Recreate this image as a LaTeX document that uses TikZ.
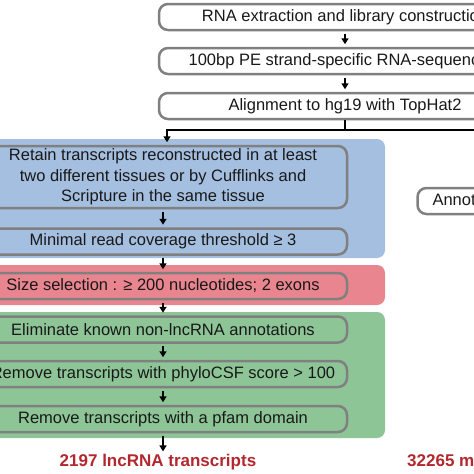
\documentclass[tikz,border=0pt]{standalone}
\usepackage{fontspec}
\setmainfont{Liberation Sans}
\usetikzlibrary{arrows.meta}
\definecolor{boxgray}{RGB}{128,128,128}
\definecolor{regblue}{RGB}{165,191,224}
\definecolor{regred}{RGB}{232,133,143}
\definecolor{reggreen}{RGB}{141,197,151}
\definecolor{countred}{RGB}{178,40,46}
\tikzset{stepbox/.style={draw=boxgray,line width=2.5pt,rounded corners=9pt,minimum height=26pt,inner sep=0pt,align=center,text=black!90,font=\fontsize{16.5}{20.5}\selectfont}}
\tikzset{topbox/.style={stepbox,fill=white,minimum width=372pt}}
\tikzset{leftbox/.style={stepbox,minimum width=368pt}}
\tikzset{flow/.style={line width=2pt,-{Triangle[width=7pt,length=6pt]},shorten <=2.5pt,shorten >=2.5pt}}
\tikzset{region/.style={rounded corners=8pt}}
\tikzset{countlabel/.style={text=countred,inner sep=0pt,font=\fontsize{17}{20}\selectfont\bfseries}}

\begin{document}
\begin{tikzpicture}[x=1pt,y=-1pt]
	\useasboundingbox (0,0) rectangle (474,474);
	\clip (0,0) rectangle (474,474);

	% filter groups
	\fill[region,regblue] (-40,139) rectangle (385,258);
	\fill[region,regred] (-40,265) rectangle (385,305);
	\fill[region,reggreen] (-40,312) rectangle (385,438);

	% sequencing and mapping
	\node[topbox] (extract) at (345,17) {RNA extraction and library construction};
	\node[topbox] (seq) at (345,61) {100bp PE strand-specific RNA-sequencing};
	\node[topbox] (align) at (345,106) {Alignment to hg19 with TopHat2};

	% lncRNA branch
	\node[leftbox,minimum height=62pt] (retain) at (163,177) {Retain transcripts reconstructed in at least\\two different tissues or by Cufflinks and\\Scripture in the same tissue};
	\node[leftbox] (coverage) at (163,241.5) {Minimal read coverage threshold ≥ 3};
	\node[leftbox] (size) at (163,286) {Size selection : ≥ 200 nucleotides; 2 exons};
	\node[leftbox] (known) at (163,329.5) {Eliminate known non-lncRNA annotations};
	\node[leftbox] (phylo) at (163,374) {Remove transcripts with phyloCSF score > 100};
	\node[leftbox] (pfam) at (163,419) {Remove transcripts with a pfam domain};
	\node[countlabel] (lncrna) at (158,462) {2197 lncRNA transcripts};

	% mRNA branch
	\node[stepbox,fill=white,anchor=west,inner xsep=15pt] (annot) at (416.25,201) {Annotated mRNA transcripts};
	\node[countlabel,anchor=west] (mrna) at (407,462) {32265 mRNA transcripts};

	\coordinate (forkL) at (167,130);
	\coordinate (forkR) at (540,130);

	\draw[flow] (extract) -- (seq);
	\draw[flow] (seq) -- (align);
	\draw[line width=2pt] (align.south) -- (align.south |- forkL);
	\draw[flow,shorten <=0pt] (forkR) -- (forkL) -- (forkL |- retain.north);
	\draw[flow,shorten <=0pt] (forkR) -- (forkR |- annot.north);

	\draw[flow] (retain) -- (coverage);
	\draw[flow] (coverage) -- (size);
	\draw[flow] (size) -- (known);
	\draw[flow] (known) -- (phylo);
	\draw[flow] (phylo) -- (pfam);
	\draw[flow] (pfam.south) -- (pfam.south |- lncrna.north);

\end{tikzpicture}
\end{document}
